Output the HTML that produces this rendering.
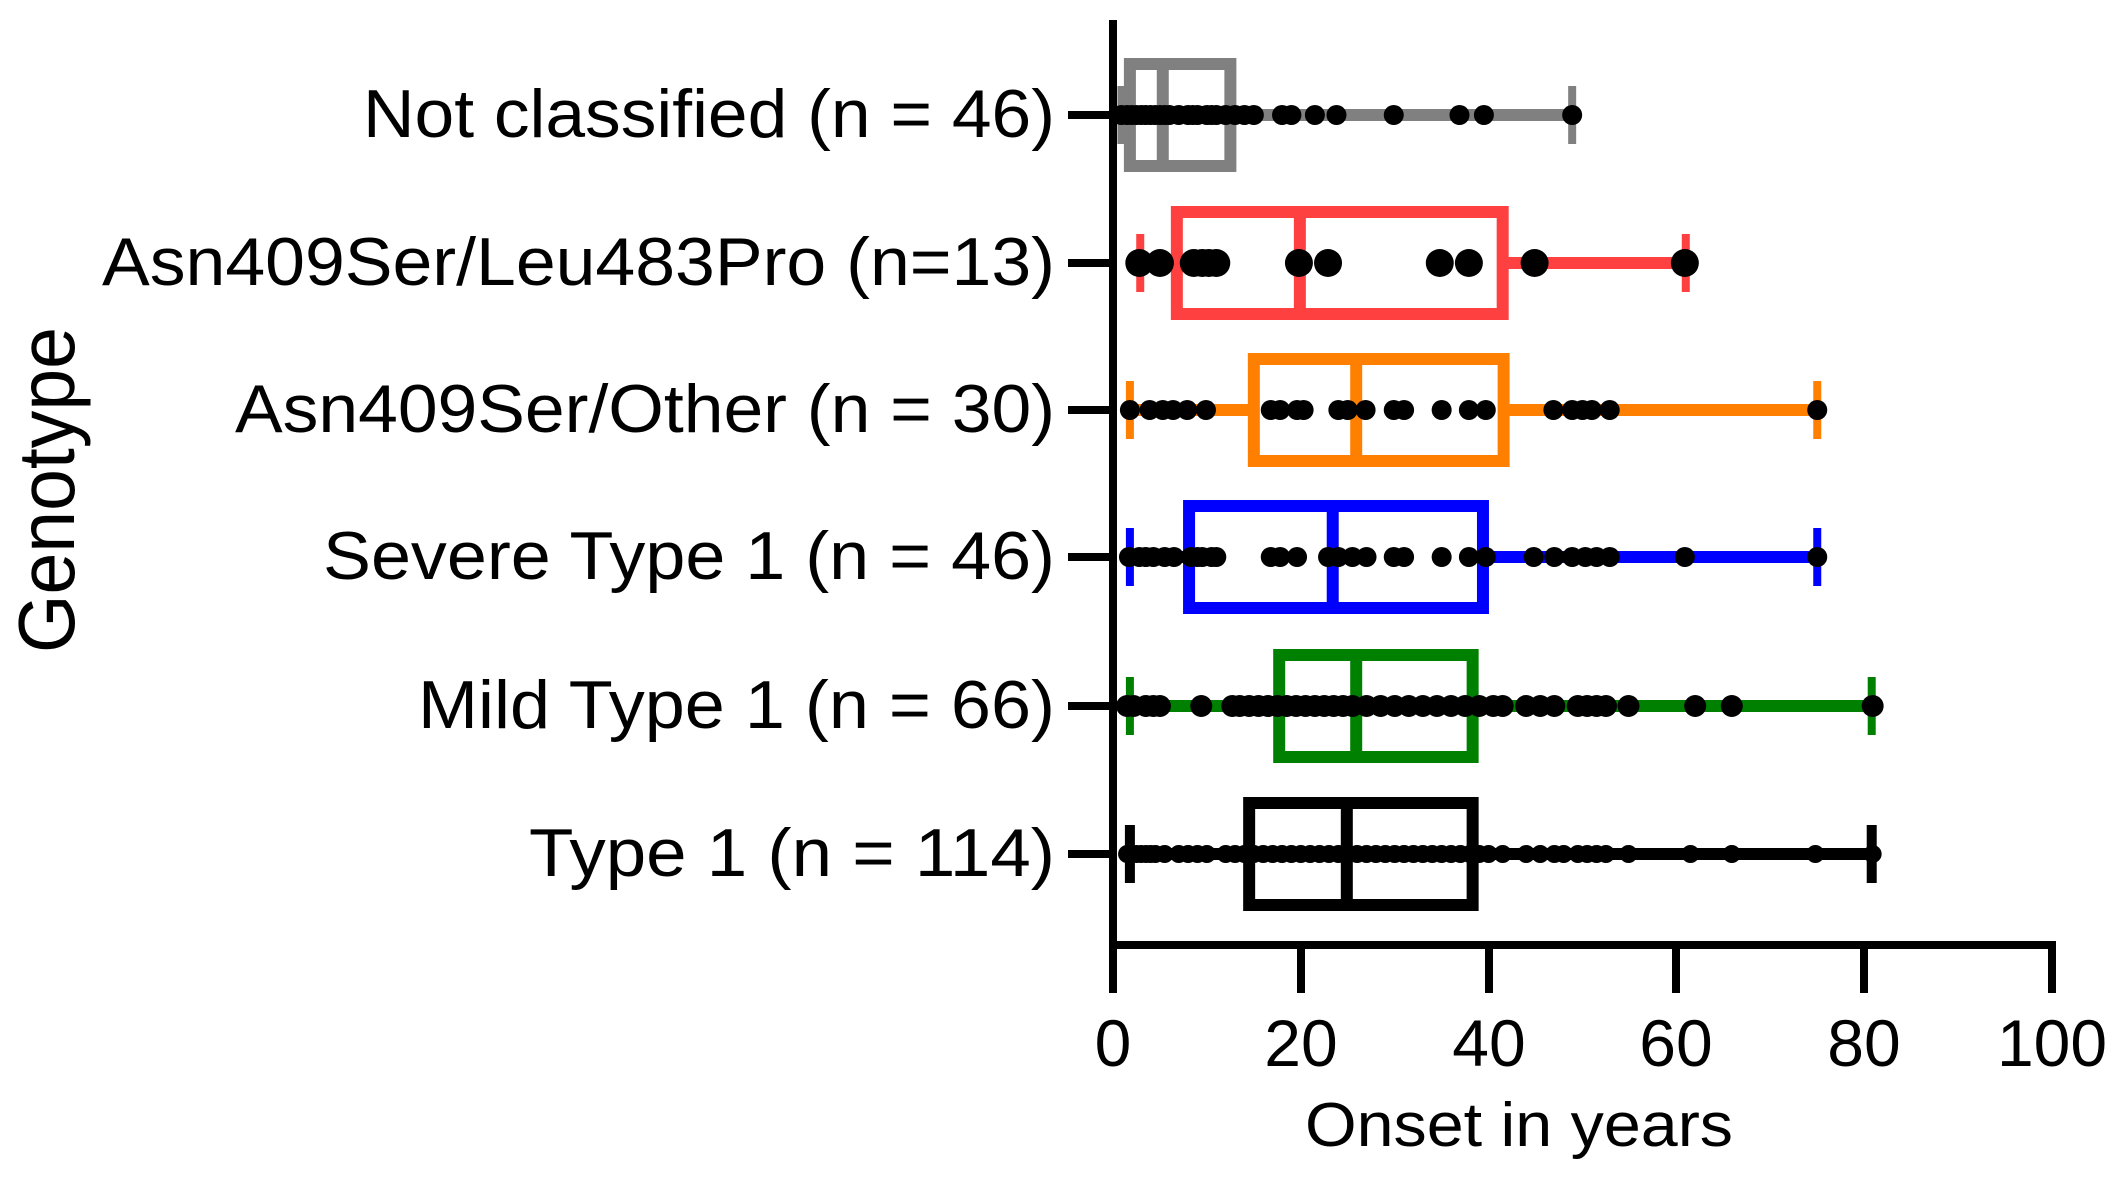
<!DOCTYPE html>
<html><head><meta charset="utf-8"><style>html,body{margin:0;padding:0;background:#fff}svg{display:block}</style></head>
<body>
<svg id="s" width="2126" height="1183" viewBox="0 0 2126 1183" xmlns="http://www.w3.org/2000/svg" font-family="Liberation Sans, Arial, sans-serif">
<rect width="2126" height="1183" fill="#fff"/>
<g id="plots"></g>
<!-- axes -->
<line x1="1113" y1="20" x2="1113" y2="949" stroke="#000" stroke-width="8"/>
<line x1="1109" y1="945" x2="2056" y2="945" stroke="#000" stroke-width="8"/>
<g stroke="#000" stroke-width="8">
<line x1="1113" y1="945" x2="1113" y2="993"/><line x1="1301" y1="945" x2="1301" y2="993"/><line x1="1489" y1="945" x2="1489" y2="993"/><line x1="1676" y1="945" x2="1676" y2="993"/><line x1="1864" y1="945" x2="1864" y2="993"/><line x1="2052" y1="945" x2="2052" y2="993"/>
<line x1="1068" y1="115" x2="1113" y2="115"/><line x1="1068" y1="263" x2="1113" y2="263"/><line x1="1068" y1="410" x2="1113" y2="410"/><line x1="1068" y1="557" x2="1113" y2="557"/><line x1="1068" y1="706" x2="1113" y2="706"/><line x1="1068" y1="854" x2="1113" y2="854"/>
</g>
<g font-size="66" text-anchor="middle" fill="#000">
<text x="1113" y="1066">0</text><text x="1301" y="1066">20</text><text x="1489" y="1066">40</text><text x="1676" y="1066">60</text><text x="1864" y="1066">80</text><text x="2052" y="1066">100</text>
</g>
<text x="1305" y="1146" font-size="62" textLength="428" lengthAdjust="spacingAndGlyphs">Onset in years</text>
<text transform="translate(74,653) rotate(-90)" font-size="80" textLength="326" lengthAdjust="spacingAndGlyphs">Genotype</text>
<g font-size="68" fill="#000">
<text x="363" y="137" textLength="692" lengthAdjust="spacingAndGlyphs">Not classified (n = 46)</text>
<text x="102" y="285" textLength="953" lengthAdjust="spacingAndGlyphs">Asn409Ser/Leu483Pro (n=13)</text>
<text x="235" y="432" textLength="820" lengthAdjust="spacingAndGlyphs">Asn409Ser/Other (n = 30)</text>
<text x="323" y="579" textLength="732" lengthAdjust="spacingAndGlyphs">Severe Type 1 (n = 46)</text>
<text x="418" y="728" textLength="637" lengthAdjust="spacingAndGlyphs">Mild Type 1 (n = 66)</text>
<text x="529" y="876" textLength="526" lengthAdjust="spacingAndGlyphs">Type 1 (n = 114)</text>
</g>
</svg>
<script>
var X=function(v){return 1113+v*9.39;};
var rows=[
{y:115,c:"#808080",q1:1.8,med:5.3,q3:12.5,lo:0.9,hi:48.9,r:10,d:[0.9,1.5,2,2.5,3,3.5,4,4.5,5,5.5,6,7,8,8.5,9,10,10.5,11,12,13,14,15,18,19,21.5,23.8,29.9,36.9,39.5,48.9]},
{y:263,c:"#ff4040",q1:6.8,med:19.9,q3:41.5,lo:2.9,hi:61,r:14,d:[2.8,5,8.6,9.5,10.2,11,19.8,22.9,34.8,37.9,44.9,60.9]},
{y:410,c:"#ff8000",q1:15,med:25.9,q3:41.6,lo:1.8,hi:75,r:10,d:[1.8,3.9,5.3,6.4,7.9,9.9,16.8,17.8,19.6,20.3,24,25,26.9,29.9,31,35,37.9,39.7,46.9,48.9,50,51,52.9,75]},
{y:557,c:"#0000ff",q1:8.1,med:23.4,q3:39.4,lo:1.8,hi:75,r:10,d:[1.7,2.8,3.5,4.3,5.5,6.5,8.3,9,9.5,10.5,11,16.8,17.8,19.6,22.9,24,25.5,27,29.9,31,35,37.9,39.7,44.8,47,48.9,50.3,51.5,52.9,60.9,75]},
{y:706,c:"#008000",q1:17.7,med:25.9,q3:38.3,lo:1.8,hi:80.8,r:11,d:[1.5,2.2,3.5,4.3,5,9.4,12.7,13.5,14.5,15.5,16.5,17.5,18.5,19.5,20.5,21.5,22.5,23.5,24.5,25.5,27,28.5,30,31.5,33,34.5,36,37.5,39,40.5,41.5,44,45.5,47,49.5,50.5,51.5,52.5,54.9,62,65.9,80.9]},
{y:854,c:"#000000",q1:14.5,med:24.9,q3:38.3,lo:1.8,hi:80.8,r:9,d:[1.5,2,2.5,3,3.5,4,4.5,5.5,7,8,9,10,12,13,14,15,16,17,18,19,20,21,22,23,24,25,26,27,28,29,30,31,32,33,34,35,36,37,38,39,40,41.5,44,45.5,47,48,49.5,50.5,51.5,52.5,54.9,61.5,65.9,74.8,80.9]}
];
var g=document.getElementById("plots"),h="";
rows.forEach(function(o){
 var y=o.y,c=o.c,sw=12,bh=51,ch=29;
 h+='<line x1="'+X(o.lo)+'" y1="'+y+'" x2="'+X(o.q1)+'" y2="'+y+'" stroke="'+c+'" stroke-width="'+sw+'"/>';
 h+='<line x1="'+X(o.q3)+'" y1="'+y+'" x2="'+X(o.hi)+'" y2="'+y+'" stroke="'+c+'" stroke-width="'+sw+'"/>';
 h+='<line x1="'+X(o.lo)+'" y1="'+(y-ch)+'" x2="'+X(o.lo)+'" y2="'+(y+ch)+'" stroke="'+c+'" stroke-width="'+(o.c=="#000000"?10:8)+'"/>';
 h+='<line x1="'+X(o.hi)+'" y1="'+(y-ch)+'" x2="'+X(o.hi)+'" y2="'+(y+ch)+'" stroke="'+c+'" stroke-width="'+(o.c=="#000000"?10:8)+'"/>';
 h+='<rect x="'+X(o.q1)+'" y="'+(y-bh)+'" width="'+(X(o.q3)-X(o.q1))+'" height="'+(2*bh)+'" fill="none" stroke="'+c+'" stroke-width="'+sw+'"/>';
 h+='<line x1="'+X(o.med)+'" y1="'+(y-bh)+'" x2="'+X(o.med)+'" y2="'+(y+bh)+'" stroke="'+c+'" stroke-width="'+sw+'"/>';
 o.d.forEach(function(v){h+='<circle cx="'+X(v)+'" cy="'+y+'" r="'+o.r+'" fill="#000"/>';});
});
g.innerHTML=h;
</script>
</body></html>
